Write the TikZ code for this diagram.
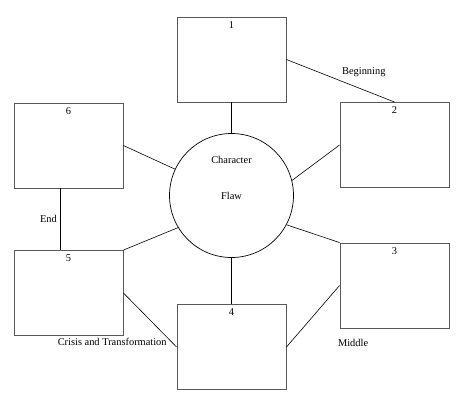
\documentclass[tikz,border=0pt]{standalone}
\usepackage{fontspec}
\setmainfont{Liberation Serif}
\usepackage{tikz}

\begin{document}
\begin{tikzpicture}[x=1pt, y=-1pt,
  every node/.style = {font=\fontsize{10.4}{12}\selectfont},
  stage/.style = {shape=rectangle, draw=black!65, line width=0.9pt,
    minimum width=109pt, minimum height=85pt, inner sep=0pt},
  num/.style = {anchor=north, yshift=-1.5pt},
  flawcircle/.style = {shape=circle, draw, line width=0.7pt,
    minimum size=124pt, inner sep=0pt},
  link/.style = {draw, line width=0.6pt}]
  \useasboundingbox (0,0) rectangle (465,408);
  \node[stage, label={[num]north:1}] (b1) at (231.5,59.5) {};
  \node[stage, label={[num]north:2}] (b2) at (394.5,145) {};
  \node[stage, label={[num]north:3}] (b3) at (394.5,285.5) {};
  \node[stage, label={[num]north:4}] (b4) at (231.5,347) {};
  \node[stage, label={[num]north:5}] (b5) at (68.5,293) {};
  \node[stage, label={[num]north:6}] (b6) at (68.5,145.5) {};
  \node[flawcircle, label={[anchor=center, yshift=-27pt]north:Character}]
    (flaw) at (231.5,195.5) {Flaw};

  \path[link] (b1) -- (flaw);
  \path[link] (b1.east) -- (b2.north)
    node[midway, above right, xshift=-2pt] {Beginning};
  \path[link] (b2.west) -- (flaw.14);
  \path[link] (flaw.-28) -- (b3.north west);
  \path[link] (b3.west) -- (b4.east);
  \path[link] (flaw) -- (b4);
  \path[link] (b5.east) -- (b4.west)
    node[pos=0.9, left, xshift=-1pt] {Crisis and Transformation};
  \path[link] (b5.north east) -- (flaw.211);
  \path[link] ([xshift=-8pt]b6.south) -- ([xshift=-8pt]b5.north)
    node[midway, left] {End};
  \path[link] (b6.east) -- (flaw.155);
  \node[anchor=north west, xshift=-5pt, yshift=-7pt] (mid) at (b3.south west) {Middle};
\end{tikzpicture}
\end{document}
